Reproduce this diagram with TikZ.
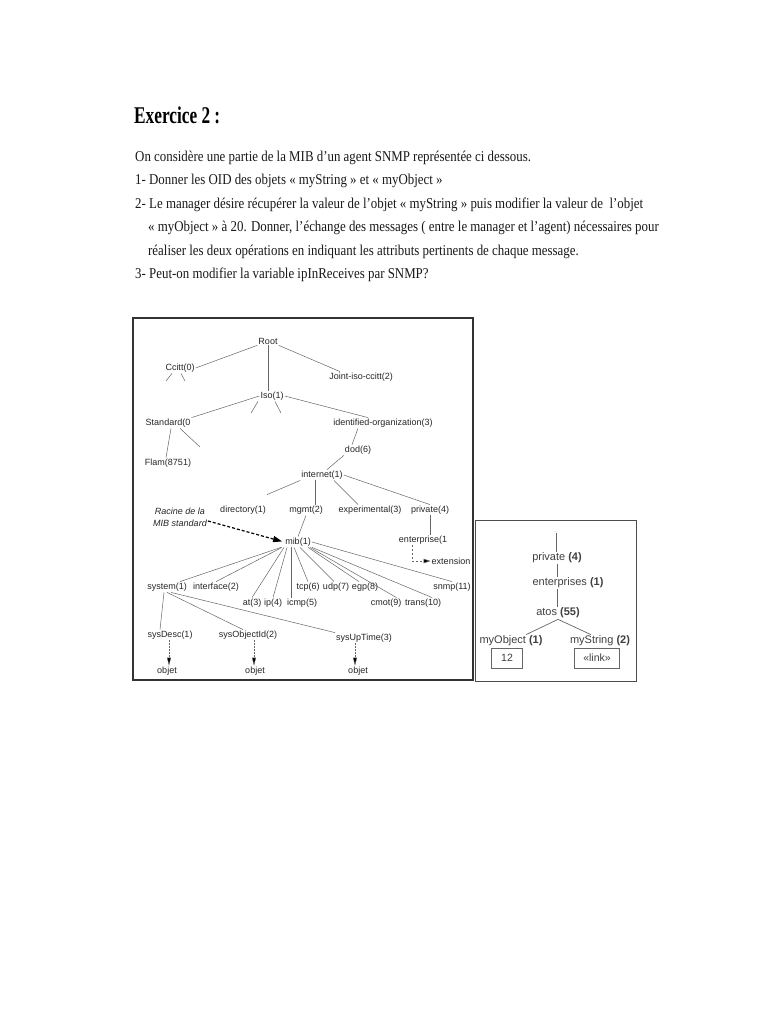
\documentclass[tikz,border=0pt]{standalone}
\usepackage{fontspec}
\usepackage{graphicx}
\setmainfont{Liberation Serif}
\newfontfamily\arial{Liberation Sans}
\usetikzlibrary{arrows.meta,calc}
\newcommand\sqz[2]{\scalebox{#1}[1]{#2}}
\begin{document}
\begin{tikzpicture}[x=1pt,y=-1pt,
  para/.style={anchor=west,inner sep=0pt,font=\fontsize{15}{15}\selectfont,text=black!90},
  lbl/.style={font=\arial\fontsize{9}{10}\selectfont,inner sep=1pt,text=black!85},
  rlbl/.style={font=\arial\fontsize{11}{12}\selectfont,inner sep=1pt,text=black!75},
  edge/.style={draw=black!60,line width=0.5pt},
  redge/.style={draw=black!60,line width=0.7pt},
  objarrow/.style={draw=black!60,line width=0.4pt,dash pattern=on 1.5pt off 1.5pt,-{Triangle[length=8pt,width=4pt,fill=black]}},
  valbox/.style={draw=black!60,line width=0.6pt,minimum height=20pt,inner sep=1pt,font=\arial\fontsize{10.5}{12}\selectfont,text=black!75}]
\useasboundingbox (0,0) rectangle (768,1024);
\fill[white] (0,0) rectangle (768,1024);

% ---- exercise text ----
\node[anchor=west,inner sep=0pt] (title) at (134,115) {\sqz{0.72}{\fontsize{24}{24}\selectfont\bfseries Exercice 2 :}};
\node[para] (l1) at (135,158) {\sqz{0.86}{On considère une partie de la MIB d’un agent SNMP représentée ci dessous.}};
\node[para] (l2) at (135,181) {\sqz{0.86}{1- Donner les OID des objets « myString » et « myObject »}};
\node[para] (l3) at (135,205) {\sqz{0.86}{2- Le manager désire récupérer la valeur de l’objet « myString » puis modifier la valeur de \ l’objet}};
\node[para] (l4) at (148,228) {\sqz{0.86}{« myObject » à 20. Donner, l’échange des messages ( entre le manager et l’agent) nécessaires pour}};
\node[para] (l5) at (148,252) {\sqz{0.86}{réaliser les deux opérations en indiquant les attributs pertinents de chaque message.}};
\node[para] (l6) at (135,275) {\sqz{0.86}{3- Peut-on modifier la variable ipInReceives par SNMP?}};

% ---- left MIB tree ----
\draw[line width=1.3pt,black!80] (133,318) rectangle (473,680);

\node[lbl] (root) at (268,341) {Root};
\node[lbl] (ccitt) at (180,368) {Ccitt(0)};
\node[lbl] (joint) at (361,377) {Joint-iso-ccitt(2)};
\node[lbl] (iso) at (272,396) {Iso(1)};
\node[lbl] (standard) at (168,423) {Standard(0};
\node[lbl] (idorg) at (383,423) {identified-organization(3)};
\node[lbl] (dod) at (358,450) {dod(6)};
\node[lbl] (flam) at (168,463) {Flam(8751)};
\node[lbl] (internet) at (322,475) {internet(1)};
\node[lbl] (directory) at (243,510) {directory(1)};
\node[lbl] (mgmt) at (306,510) {mgmt(2)};
\node[lbl] (experimental) at (370,510) {experimental(3)};
\node[lbl] (private) at (430,510) {private(4)};
\node[lbl,align=center,font=\arial\itshape\fontsize{9}{12}\selectfont] (racine) at (180,517) {Racine de la\\MIB standard};
\node[lbl] (mib) at (298,542) {mib(1)};
\node[lbl] (enterprise) at (423,540) {enterprise(1};
\node[lbl] (extension) at (451,561) {extension};

\node[lbl] (system) at (167,587) {system(1)};
\node[lbl] (interface) at (216,587) {interface(2)};
\node[lbl] (at) at (252,603) {at(3)};
\node[lbl] (ip) at (273,603) {ip(4)};
\node[lbl] (icmp) at (302,603) {icmp(5)};
\node[lbl] (tcp) at (308,587) {tcp(6)};
\node[lbl] (udp) at (336,587) {udp(7)};
\node[lbl] (egp) at (365,587) {egp(8)};
\node[lbl] (snmp) at (452,587) {snmp(11)};
\node[lbl] (cmot) at (386,603) {cmot(9)};
\node[lbl] (trans) at (423,603) {trans(10)};

\node[lbl] (sysdesc) at (170,635) {sysDesc(1)};
\node[lbl] (sysobj) at (248,635) {sysObjectId(2)};
\node[lbl] (sysup) at (364,638) {sysUpTime(3)};
\node[lbl] (obj1) at (167,671) {objet};
\node[lbl] (obj2) at (255,671) {objet};
\node[lbl] (obj3) at (358,671) {objet};

% stubs
\coordinate (cs1) at (166,381);
\coordinate (cs2) at (185,381);
\coordinate (is1) at (251,413);
\coordinate (is2) at (281,413);
\coordinate (ss1) at (200,447);

\draw[edge] (root.south west) -- (ccitt.east);
\draw[edge] (root.south) -- (root.south |- iso.north);
\draw[edge] (root.south east) -- ([xshift=12pt]joint.north west);
\draw[edge] ([xshift=-8pt]ccitt.south) -- (cs1);
\draw[edge] ([xshift=1pt]ccitt.south) -- (cs2);
\draw[edge] (iso.west) -- (standard.north east);
\draw[edge] (iso.east) -- ([xshift=-15pt]idorg.north);
\draw[edge] ([xshift=-14pt]iso.south) -- (is1);
\draw[edge] ([xshift=3pt]iso.south) -- (is2);
\draw[edge] ([xshift=3pt]standard.south) -- ([xshift=-2pt]flam.north);
\draw[edge] ([xshift=12pt]standard.south) -- (ss1);
\draw[edge] ([xshift=-25pt]idorg.south) -- ([xshift=-6pt]dod.north);
\draw[edge] (dod.south west) -- ([xshift=5pt]internet.north);
\draw[edge] (internet.south west) -- ([yshift=10pt]directory.north east);
\draw[edge] ([xshift=-7pt]internet.south) -- ([xshift=-7pt]internet.south |- mgmt.north);
\draw[edge] ([xshift=12pt]internet.south) -- ([xshift=-12pt]experimental.north);
\draw[edge] (internet.east) -- (private.north);
\draw[edge] (mgmt.south) -- (mib.north);
\draw[edge] (private.south) -- (private.south |- enterprise.north);
\draw[edge,dash pattern=on 2pt off 2pt,-{Triangle[length=7pt,width=4.5pt,fill=black]}] ([xshift=-11pt]enterprise.south) |- (extension.west);
\draw[black,line width=1.2pt,dash pattern=on 3pt off 2pt,-{Triangle[length=9pt,width=6pt]},shorten >=2pt] ([yshift=-4pt]racine.east) -- (mib.west);

\draw[edge] ([xshift=-3pt]mib.south west) -- ([xshift=-8pt]system.north east);
\draw[edge] ([xshift=-2pt]mib.south west) -- (interface.north);
\draw[edge] (mib.south west) -- (at.north);
\draw[edge] ([xshift=3pt]mib.south west) -- (ip.north);
\draw[edge] ([xshift=-7pt]mib.south) -- ([xshift=-7pt]mib.south |- icmp.north);
\draw[edge] ([xshift=-4pt]mib.south) -- (tcp.north);
\draw[edge] ([xshift=2pt]mib.south) -- ([xshift=-2pt]udp.north);
\draw[edge] ([xshift=-4pt]mib.south east) -- ([xshift=-6pt]egp.north);
\draw[edge] ([xshift=-2pt]mib.south east) -- ([xshift=-6pt]cmot.north east);
\draw[edge] (mib.south east) -- ([xshift=-10pt]trans.north east);
\draw[edge] (mib.east) -- (snmp.north);

\draw[edge] ([xshift=-3pt]system.south) -- ([xshift=-10pt]sysdesc.north);
\draw[edge] (system.south) -- ([xshift=-5pt]sysobj.north);
\draw[edge] ([xshift=4pt]system.south) -- (sysup.north west);
\draw[objarrow] ([xshift=-1pt]sysdesc.south) -- ([xshift=-1pt]sysdesc.south |- obj1.north);
\draw[objarrow] ([xshift=6pt]sysobj.south) -- ([xshift=6pt]sysobj.south |- obj2.north);
\draw[objarrow] ([xshift=-9pt]sysup.south) -- ([xshift=-9pt]sysup.south |- obj3.north);

% ---- right tree ----
\draw[line width=1pt,black!70] (475,520) rectangle (636,681);
\node[font=\arial\fontsize{4}{4}\selectfont,text=black!40,inner sep=0.5pt] (dots) at (556,532) {...};
\node[rlbl] (rprivate) at (557,558) {private \textbf{(4)}};
\node[rlbl] (renter) at (568,583) {enterprises \textbf{(1)}};
\node[rlbl] (atos) at (558,613) {atos \textbf{(55)}};
\node[rlbl] (myobj) at (511,641) {myObject \textbf{(1)}};
\node[rlbl] (mystr) at (600,641) {myString \textbf{(2)}};
\node[valbox,minimum width=31pt] (v12) at (507,658) {12};
\node[valbox,minimum width=45pt] (vlink) at (597,658) {«link»};

\draw[redge] (dots.south) -- (dots.south |- rprivate.north);
\draw[redge] (rprivate.south) -- (rprivate.south |- renter.north);
\draw[redge] (renter.south -| rprivate.south) -- (rprivate.south |- atos.north);
\draw[redge] (atos.south) -- ([xshift=15pt]myobj.north);
\draw[redge] (atos.south) -- ([xshift=-9pt]mystr.north);
\end{tikzpicture}
\end{document}
